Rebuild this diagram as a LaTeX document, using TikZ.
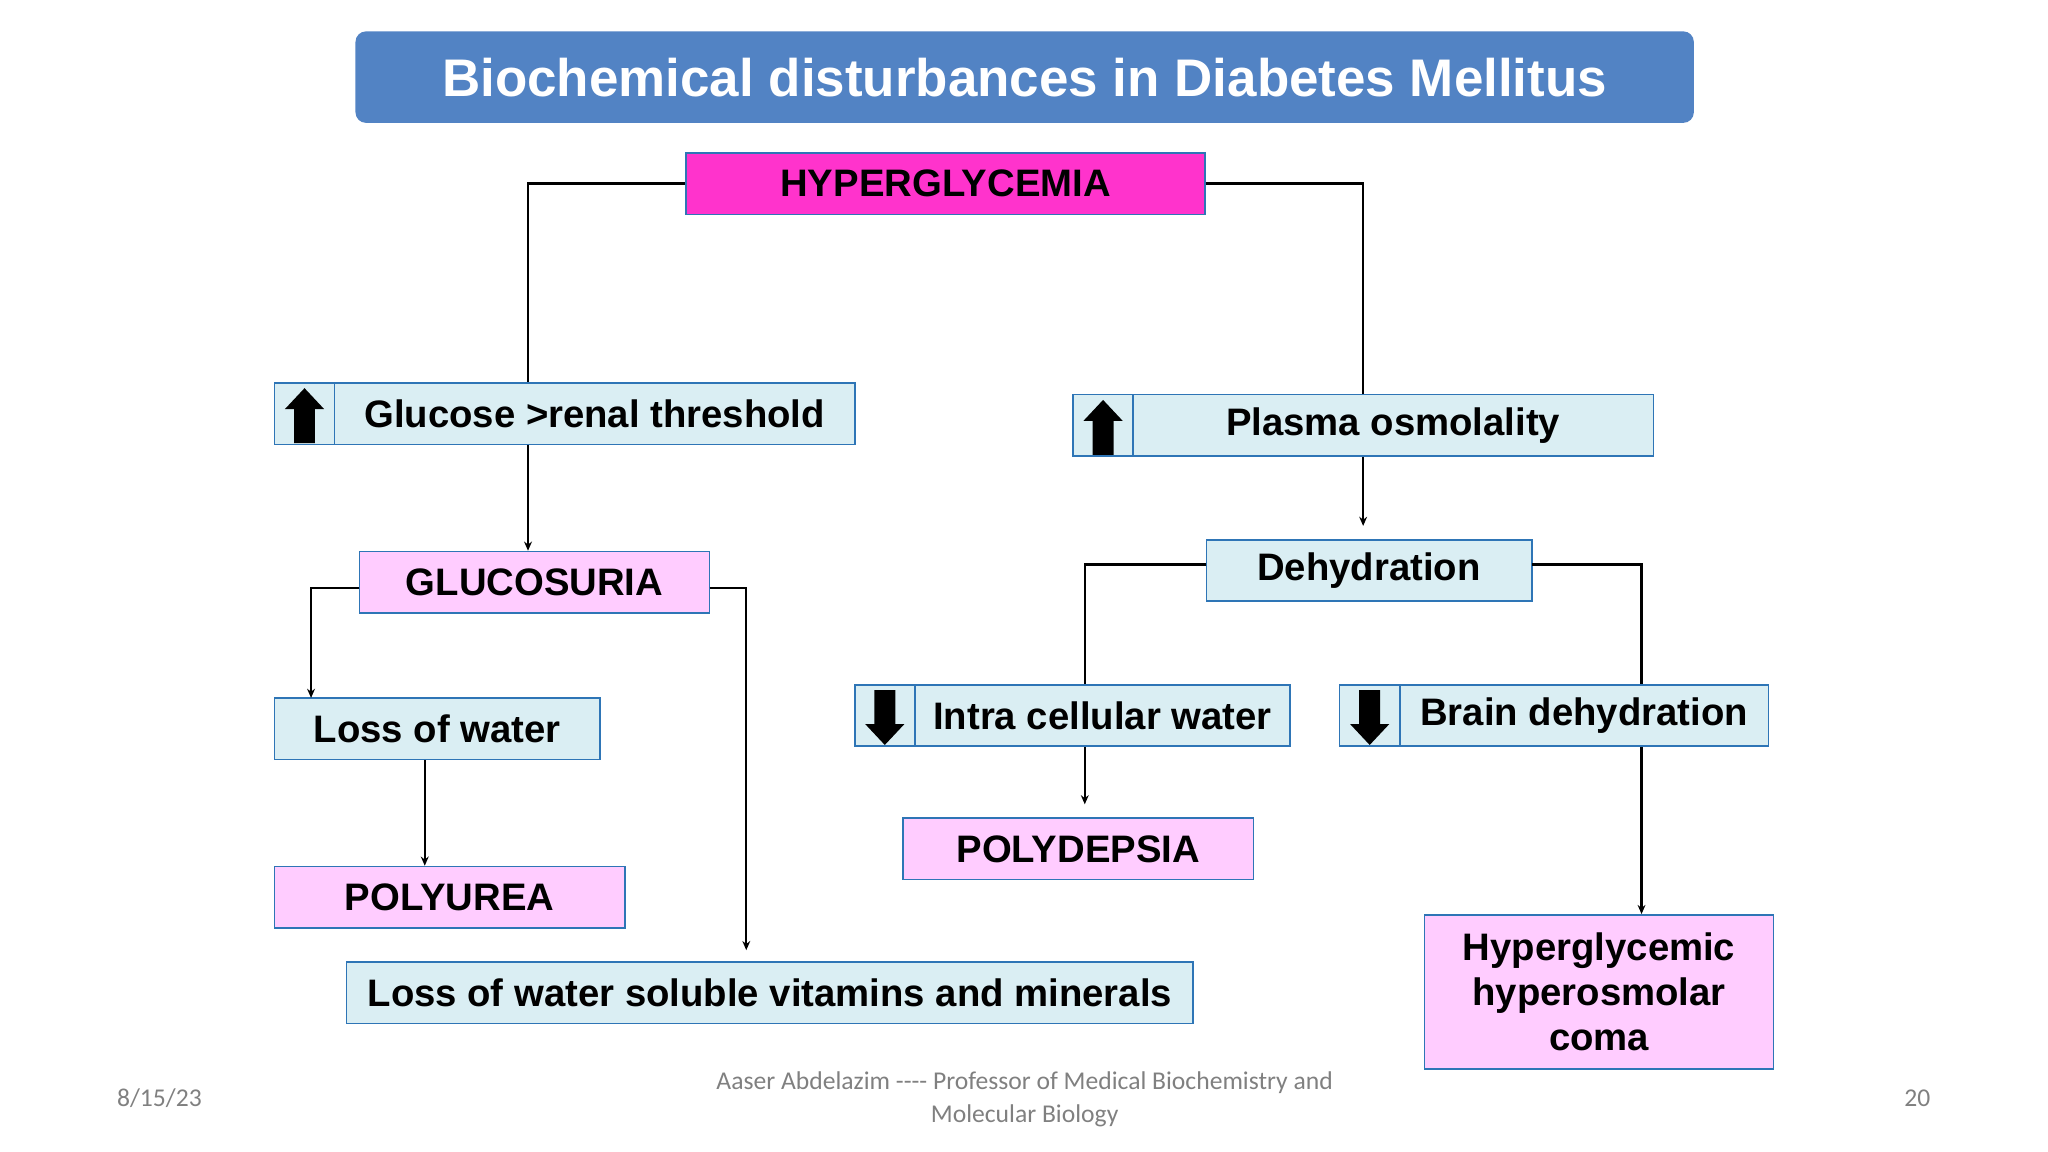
\documentclass[tikz,border=0pt]{standalone}
\usepackage{fontspec}
\setmainfont{Liberation Sans}
\newfontfamily\foot{Carlito}
\usetikzlibrary{arrows.meta}
\definecolor{lblue}{HTML}{DAEEF3}
\definecolor{bord}{HTML}{2E75B6}
\definecolor{pinkl}{HTML}{FFCCFF}
\definecolor{mag}{HTML}{FF33CC}
\definecolor{titleb}{HTML}{5283C4}
\tikzset{
 bx/.style={draw=bord, line width=1.2pt, minimum height=47pt, inner sep=0pt, font=\fontsize{29.3}{32}\selectfont\bfseries},
 lb/.style={bx, fill=lblue},
 pk/.style={bx, fill=pinkl},
 ln/.style={line width=1.8pt},
 ar/.style={ln, -{Stealth[length=7pt,width=6pt]}},
 ft/.style={text=gray, font=\foot\fontsize{19.6}{25}\selectfont}
}
\newcommand\myup[2]{\fill (#1,#2) ++(0,-21) -- ++(15,16) -- ++(-7,0) -- ++(0,26) -- ++(-16,0) -- ++(0,-26) -- ++(-7,0) -- cycle;}
\newcommand\mydown[2]{\fill (#1,#2) ++(0,21) -- ++(15,-16) -- ++(-7,0) -- ++(0,-26) -- ++(-16,0) -- ++(0,26) -- ++(-7,0) -- cycle;}
\begin{document}
\begin{tikzpicture}[x=1pt,y=-1pt]
\useasboundingbox (0,0) rectangle (1567,881.4);
\node[fill=titleb, rounded corners=8pt, minimum width=1024pt, minimum height=70pt, text=white, font=\fontsize{40.5}{44}\selectfont\bfseries] (title) at (784,59) {Biochemical disturbances in Diabetes Mellitus};
\node[bx, fill=mag, minimum width=397pt] (hyp) at (723.5,140.5) {HYPERGLYCEMIA};
\node[lb, minimum width=398pt] (gmain) at (455,316.5) {Glucose >renal threshold};
\node[lb, minimum width=46pt] (gcell) at (233,316.5) {};
\node[lb, minimum width=398pt] (pmain) at (1066,325.5) {Plasma osmolality};
\node[lb, minimum width=46pt] (pcell) at (844,325.5) {};
\node[lb, minimum width=249pt] (deh) at (1047.5,436.5) {Dehydration};
\node[pk, minimum width=268pt] (glu) at (409,445.5) {GLUCOSURIA};
\node[lb, minimum width=249pt] (lw) at (334.5,557.5) {Loss of water};
\node[pk, minimum width=268pt] (poly) at (344,686.5) {POLYUREA};
\node[lb, minimum width=648pt] (vit) at (589,759.5) {Loss of water soluble vitamins and minerals};
\node[lb, minimum width=287pt] (imain) at (843.5,547.5) {Intra cellular water};
\node[lb, minimum width=46pt] (icell) at (677,547.5) {};
\node[lb, minimum width=282pt] (bmain) at (1212,547.5) {Brain dehydration};
\node[lb, minimum width=46pt] (bcell) at (1048,547.5) {};
\node[pk, minimum width=267pt, minimum height=118pt, align=center, font=\fontsize{29.3}{34.5}\selectfont\bfseries] (coma) at (1223.5,759) {Hyperglycemic\\hyperosmolar\\coma};
\node[pk, minimum width=268pt] (pd) at (825,649.5) {POLYDEPSIA};
\myup{233}{318}
\myup{844}{327}
\mydown{677}{549}
\mydown{1048}{549}
\coordinate (c1) at (238,534);
\coordinate (c2) at (571,727);
\coordinate (c3) at (830,0);
\coordinate (c4) at (1256,0);
\coordinate (x1) at (404,0);
\coordinate (x2) at (1043,0);
\coordinate (dl) at (923,432);
\coordinate (dr) at (1172,432);
\coordinate (gl) at (275,450);
\coordinate (gr) at (543,450);
\draw[ln] (hyp.west) -| (gmain.north -| x1);
\draw[ar] (gmain.south -| x1) -- (glu.north -| x1);
\draw[ln] (hyp.east) -| (pmain.north -| x2);
\draw[ar, shorten >=10pt] (pmain.south -| x2) -- (deh.north -| x2);
\draw[ar] (gl) -| (c1);
\draw[ar] (gr) -| (c2);
\draw[ar] (lw.south -| 325,0) -- (poly.north -| 325,0);
\draw[ln] (dl) -| (imain.north -| c3);
\draw[ar, shorten >=10pt] (imain.south -| c3) -- (pd.north -| c3);
\draw[ln] (dr) -| (bmain.north -| c4);
\draw[ar] (bmain.south -| c4) -- (coma.north -| c4);
\node[ft] (date) at (122,840) {8/15/23};
\node[ft, align=center] (auth) at (784,841) {Aaser Abdelazim ---- Professor of Medical Biochemistry and\\Molecular Biology};
\node[ft] (pg) at (1467,840) {20};
\end{tikzpicture}
\end{document}
